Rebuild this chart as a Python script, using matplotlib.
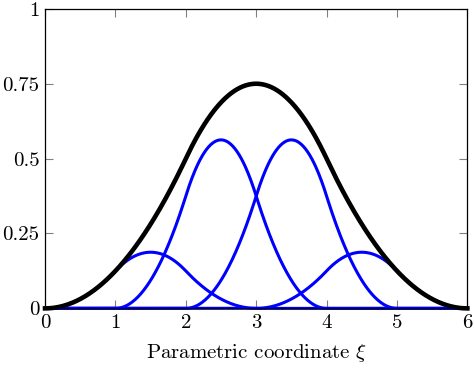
import numpy as np
import matplotlib.pyplot as plt

plt.rcParams['font.family'] = 'cmr10'
plt.rcParams['mathtext.fontset'] = 'cm'
plt.rcParams['axes.unicode_minus'] = False

# Quadratic B-spline: coarse function and its refinement on the finer knots
degree = 2
coarse_knots = [0, 2, 4, 6]
fine_knots = [0, 1, 2, 3, 4, 5, 6]
fine_coeffs = [0.25, 0.75, 0.75, 0.25]

xticks = [0, 1, 2, 3, 4, 5, 6]
yticks = [0, 0.25, 0.5, 0.75, 1]
ytick_labels = ['0', '0.25', '0.5', '0.75', '1']


def bspline(x, knots, p):
    # Cox-de Boor recursion for a single basis function on the given knots
    if p == 0:
        return np.where((x >= knots[0]) & (x < knots[1]), 1.0, 0.0)
    left = (x - knots[0]) / (knots[p] - knots[0]) * bspline(x, knots[:-1], p - 1)
    right = (knots[p + 1] - x) / (knots[p + 1] - knots[1]) * bspline(x, knots[1:], p - 1)
    return left + right


xi = np.linspace(0, 6, 601)

fig = plt.figure(figsize=(4.74, 3.68), dpi=100)
ax = fig.add_axes([0.095, 0.162, 0.891, 0.814])

for i, c in enumerate(fine_coeffs):
    y = c * bspline(xi, fine_knots[i:i + degree + 2], degree)
    ax.plot(xi, y, color=(0, 0, 1), lw=2.2, clip_on=False, zorder=2)

ax.plot(xi, bspline(xi, coarse_knots, degree), color='black', lw=3.3,
        clip_on=False, zorder=3)

ax.set_xlim(0, 6)
ax.set_ylim(0, 1)
ax.set_xticks(xticks)
ax.set_yticks(yticks)
ax.set_yticklabels(ytick_labels)
ax.tick_params(direction='in', length=6, width=0.8, color='0.5',
               top=True, right=True, labelsize=15, pad=4)
for s in ax.spines.values():
    s.set_linewidth(0.9)
ax.set_xlabel(r'Parametric coordinate $\xi$', fontsize=15, labelpad=7)

fig.savefig('out.png', dpi=100)
